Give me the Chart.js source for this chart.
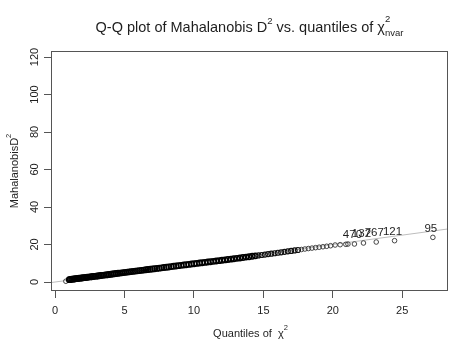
<!DOCTYPE html>
<html>
<head>
<meta charset="utf-8">
<script src="https://cdn.jsdelivr.net/npm/chart.js@4.4.1/dist/chart.umd.min.js"></script>
<style>
html,body{margin:0;padding:0;background:#fff;}
#wrap{width:474px;height:355px;}
</style>
</head>
<body>
<div id="wrap"><canvas id="c" width="474" height="355"></canvas></div>
<script>
// Chi-square quantiles (x) and sorted Mahalanobis D^2 (y)
const chiQuantiles = [
  0.77, 1.02, 1.10, 1.19, 1.27, 1.36, 1.45, 1.54, 1.63, 1.72,
  1.82, 1.91, 2.01, 2.11, 2.21, 2.31, 2.41, 2.52, 2.62, 2.73,
  2.84, 2.95, 3.06, 3.18, 3.29, 3.41, 3.53, 3.65, 3.77, 3.89,
  4.02, 4.14, 4.27, 4.40, 4.53, 4.66, 4.80, 4.93, 5.07, 5.21,
  5.35, 5.49, 5.64, 5.78, 5.93, 6.08, 6.23, 6.38, 6.54, 6.69,
  6.85, 7.01, 7.17, 7.34, 7.50, 7.67, 7.84, 8.01, 8.18, 8.36,
  8.53, 8.71, 8.89, 9.07, 9.26, 9.44, 9.63, 9.82, 10.01, 10.20,
  10.40, 10.59, 10.79, 10.99, 11.19, 11.40, 11.60, 11.81, 12.02, 12.23,
  12.44, 12.66, 12.87, 13.09, 13.31, 13.53, 13.75, 13.97, 14.20, 14.42,
  14.65, 14.88, 15.11, 15.34, 15.57, 15.81, 16.04, 16.28, 16.52, 16.76,
  17.00, 17.25, 17.49, 17.74, 17.99, 18.24, 18.50, 18.76, 19.02, 19.29,
  19.56, 19.84, 20.17, 20.53, 20.94, 21.09, 21.56, 22.21, 23.13, 24.45,
  27.21
];
const mahalanobisD2 = [
  0.40, 1.25, 1.36, 1.44, 1.53, 1.61, 1.71, 1.79, 1.88, 1.97,
  2.06, 2.15, 2.24, 2.33, 2.42, 2.51, 2.61, 2.71, 2.80, 2.91,
  3.01, 3.12, 3.22, 3.33, 3.44, 3.55, 3.67, 3.79, 3.90, 4.02,
  4.14, 4.26, 4.39, 4.51, 4.63, 4.76, 4.89, 5.01, 5.14, 5.27,
  5.41, 5.54, 5.68, 5.81, 5.95, 6.08, 6.22, 6.36, 6.50, 6.64,
  6.79, 6.94, 7.09, 7.25, 7.40, 7.56, 7.72, 7.88, 8.04, 8.21,
  8.37, 8.54, 8.71, 8.88, 9.05, 9.22, 9.40, 9.57, 9.74, 9.92,
  10.10, 10.28, 10.46, 10.64, 10.83, 11.02, 11.21, 11.40, 11.60, 11.80,
  12.00, 12.20, 12.41, 12.62, 12.84, 13.05, 13.27, 13.49, 13.71, 13.94,
  14.17, 14.40, 14.64, 14.87, 15.11, 15.35, 15.60, 15.84, 16.09, 16.34,
  16.59, 16.84, 17.09, 17.34, 17.59, 17.84, 18.08, 18.32, 18.56, 18.80,
  19.05, 19.35, 19.73, 19.90, 20.10, 20.25, 20.27, 20.80, 21.33, 22.04,
  23.80
];
// labels of the five largest distances (attached to the last five points)
const outlierLabels = ['470', '132', '767', '121', '95'];
// reference line y = x, spanning the x range
const refLineX = [-0.3, 28.3];
const refLineY = [-0.3, 28.3];
const xTicks = [0, 5, 10, 15, 20, 25];
const yTicks = [0, 20, 40, 60, 80, 100, 120];
const xRange = [-0.3, 28.3];
const yRange = [-4.8, 123.2];

const FONT = '"Liberation Sans", Arial, sans-serif';
const TXT = '#1e1e1e';
const AXC = '#555';

const points = chiQuantiles.map((x, i) => ({x: x, y: mahalanobisD2[i]}));
const refLine = refLineX.map((x, i) => ({x: x, y: refLineY[i]}));

function drawRich(ctx, parts, cx, cy) {
  const widths = parts.map(p => {
    ctx.font = p.size + 'px ' + FONT;
    return ctx.measureText(p.t).width;
  });
  const xs = [];
  let cur = 0;
  parts.forEach((p, i) => {
    if (p.stack) {
      xs.push(xs[i - 1]);
      cur = Math.max(cur, xs[i - 1] + widths[i]);
    } else {
      xs.push(cur);
      cur += widths[i];
    }
  });
  const x0 = cx - cur / 2;
  parts.forEach((p, i) => {
    ctx.font = p.size + 'px ' + FONT;
    ctx.textAlign = 'left';
    ctx.textBaseline = 'alphabetic';
    ctx.fillText(p.t, x0 + xs[i], cy + (p.dy || 0));
  });
}

const decor = {
  id: 'decor',
  afterDraw(chart) {
    const ctx = chart.ctx;
    const a = chart.chartArea;
    const xs = chart.scales.x, ys = chart.scales.y;
    ctx.save();
    ctx.strokeStyle = AXC;
    ctx.lineWidth = 1;
    ctx.strokeRect(a.left + 0.5, a.top + 0.5, a.right - a.left - 1, a.bottom - a.top - 1);
    ctx.fillStyle = TXT;
    ctx.font = '11px ' + FONT;
    yTicks.forEach(v => {
      const py = ys.getPixelForValue(v);
      ctx.save();
      ctx.translate(a.left - 16, py);
      ctx.rotate(-Math.PI / 2);
      ctx.textAlign = 'center';
      ctx.textBaseline = 'middle';
      ctx.fillText(String(v), 0, 0);
      ctx.restore();
    });
    ctx.font = '11.5px ' + FONT;
    ctx.textAlign = 'center';
    ctx.textBaseline = 'middle';
    const n = points.length;
    outlierLabels.forEach((lab, k) => {
      const p = points[n - outlierLabels.length + k];
      const px = xs.getPixelForValue(p.x);
      const py = ys.getPixelForValue(p.y);
      ctx.fillText(lab, px - 2, py - 9);
    });
    drawRich(ctx, [
      {t: 'Q-Q plot of Mahalanobis D', size: 14.5},
      {t: '2', size: 9.5, dy: -8},
      {t: ' vs. quantiles of ', size: 14.5},
      {t: '\u03C7', size: 14.5},
      {t: '2', size: 9.5, dy: -10},
      {t: 'nvar', size: 9.5, dy: 4, stack: true}
    ], (a.left + a.right) / 2, 32);
    drawRich(ctx, [
      {t: 'Quantiles of  ', size: 11},
      {t: '\u03C7', size: 11},
      {t: '2', size: 7.5, dy: -7}
    ], (a.left + a.right) / 2 + 1, 337);
    ctx.save();
    ctx.translate(18, (a.top + a.bottom) / 2);
    ctx.rotate(-Math.PI / 2);
    drawRich(ctx, [
      {t: 'MahalanobisD', size: 11},
      {t: '2', size: 7.5, dy: -7}
    ], 0, 0);
    ctx.restore();
    ctx.restore();
  }
};

// point weight: heavy where the original cloud is dense, light in the sparse tail
function weight(c) {
  if (c.dataIndex === 0) return 0;
  const x = c.raw.x;
  if (x < 14.5) return 2;
  if (x < 17.5) return 1;
  return 0;
}
new Chart(document.getElementById('c'), {
  type: 'scatter',
  data: {
    datasets: [
      {
        type: 'scatter',
        data: points,
        pointStyle: 'circle',
        pointRadius: c => [2.3, 2.5, 2.7][weight(c)],
        pointBorderWidth: c => [0.9, 1.15, 1.5][weight(c)],
        borderColor: '#000',
        backgroundColor: 'rgba(0,0,0,0)',
        pointBackgroundColor: 'rgba(0,0,0,0)',
        pointBorderColor: c => ['#333', '#111', '#000'][weight(c)]
      },
      {
        type: 'line',
        data: refLine,
        borderColor: '#bdbdbd',
        borderWidth: 1,
        pointRadius: 0,
        fill: false
      }
    ]
  },
  options: {
    responsive: false,
    animation: false,
    events: [],
    layout: {padding: {top: 51, right: 26, left: 0, bottom: 0}},
    plugins: {legend: {display: false}, tooltip: {enabled: false}, title: {display: false}},
    scales: {
      x: {
        type: 'linear',
        min: xRange[0], max: xRange[1],
        afterFit: s => { s.height = 64; },
        afterBuildTicks: s => { s.ticks = xTicks.map(v => ({value: v})); },
        grid: {display: true, drawOnChartArea: false, drawTicks: true, tickLength: 7, color: AXC, lineWidth: 1},
        border: {display: false},
        ticks: {font: {size: 11, family: FONT}, color: TXT, padding: 6, maxRotation: 0, autoSkip: false}
      },
      y: {
        type: 'linear',
        min: yRange[0], max: yRange[1],
        afterFit: s => { s.width = 51; },
        afterBuildTicks: s => { s.ticks = yTicks.map(v => ({value: v})); },
        grid: {display: true, drawOnChartArea: false, drawTicks: true, tickLength: 7, color: AXC, lineWidth: 1},
        border: {display: false},
        ticks: {display: false}
      }
    }
  },
  plugins: [decor]
});
</script>
</body>
</html>
